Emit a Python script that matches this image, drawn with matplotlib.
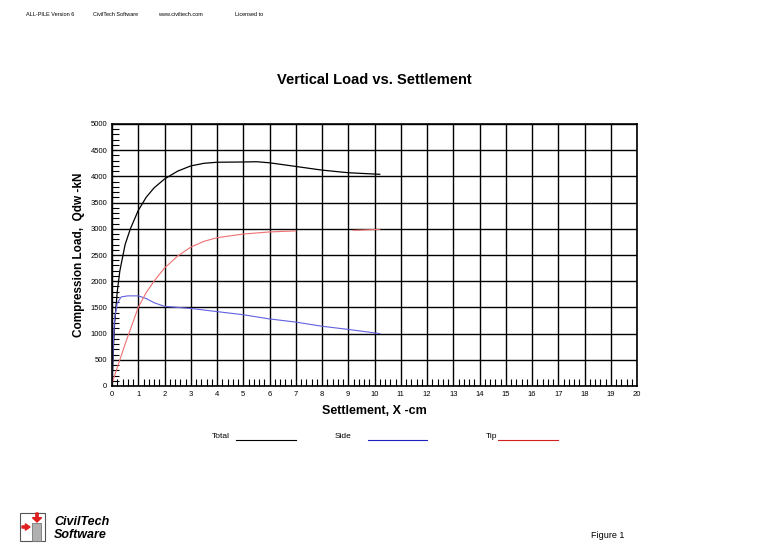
import numpy as np
import matplotlib
matplotlib.use("Agg")
import matplotlib.pyplot as plt
from matplotlib.patches import Rectangle, FancyArrow

total_x = [0, 0.05, 0.1, 0.2, 0.3, 0.5, 0.7, 1.0, 1.3, 1.6, 2.0, 2.5, 3.0, 3.5, 4.0, 5.0, 5.5, 6.0, 7.0, 8.0, 9.0, 10.2]
total_y = [0, 700, 1200, 1800, 2200, 2700, 3000, 3350, 3600, 3780, 3950, 4100, 4200, 4250, 4270, 4275, 4280, 4260, 4190, 4120, 4070, 4040]
side_x = [0, 0.05, 0.1, 0.2, 0.35, 0.6, 1.0, 1.3, 1.6, 2.0, 2.5, 3.0, 4.0, 5.0, 6.0, 7.0, 8.0, 9.0, 10.2]
side_y = [0, 800, 1300, 1580, 1700, 1720, 1720, 1670, 1590, 1520, 1500, 1480, 1420, 1360, 1280, 1220, 1140, 1080, 1000]
tip_x = [0, 0.2, 0.5, 1.0, 1.3, 1.6, 2.0, 2.5, 3.0, 3.5, 4.0, 5.0, 6.0, 7.0, 7.5, 9.2, 10.2]
tip_y = [50, 350, 800, 1500, 1780, 2000, 2250, 2480, 2650, 2760, 2830, 2900, 2940, 2960, np.nan, 2970, 2990]

plt.rcParams['font.family'] = ['Liberation Sans', 'DejaVu Sans']
fig = plt.figure(figsize=(7.68, 5.43), dpi=100)
ax = fig.add_axes([112/768, 1-386/543, (637-112)/768, (386-124)/543])
ax.plot(total_x, total_y, color='black', lw=0.9)
ax.plot(side_x, side_y, color='#6060e0', lw=0.8)
ax.plot(tip_x, tip_y, color='#f07070', lw=0.8)
ax.set_xlim(0, 20)
ax.set_ylim(0, 5000)
ax.set_xticks(range(0, 21))
ax.set_yticks(range(0, 5001, 500))
ax.set_xticks(np.arange(0, 20.01, 0.2), minor=True)
ax.set_yticks(range(0, 5001, 100), minor=True)
ax.grid(True, which='major', color='black', lw=1.0)
ax.tick_params(which='both', direction='in', labelsize=5.5, top=False, right=False)
ax.tick_params(which='major', length=0)
ax.tick_params(which='minor', length=5, width=0.8)
for s in ax.spines.values():
    s.set_linewidth(1.2)
ax.set_xlabel('Settlement, X -cm', fontsize=9, fontweight='bold', labelpad=5)
ax.set_ylabel('Compression Load,  Qdw -kN', fontsize=8.5, fontweight='bold', labelpad=4)

fig.text(374/768, 1-80/543, 'Vertical Load vs. Settlement', ha='center', va='center', fontsize=10.5, fontweight='bold')
for x, t in [(26, 'ALL-PILE Version 6'), (93, 'CivilTech Software'), (158, 'www.civiltech.com'), (235, 'Licensed to')]:
    fig.text(x/768, 1-14/543, t, fontsize=4, va='center')

# legend
for x0, lab, col in [(212, 'Total', 'black'), (335, 'Side', '#2020c0'), (486, 'Tip', '#d02020')]:
    fig.text(x0/768, 1-437/543, lab, fontsize=6, va='center')
for x0, x1, col in [(236, 296, 'black'), (368, 427, '#2020c0'), (498, 558, '#d02020')]:
    fig.add_artist(plt.Line2D([x0/768, x1/768], [1-440/543]*2, color=col, lw=0.8))

# logo
fig.add_artist(Rectangle((20/768, 1-541/543), 25/768, 28/543, fill=False, ec='#555555', lw=0.8))
fig.add_artist(Rectangle((32/768, 1-541/543), 9/768, 18/543, fc='#b0b0b0', ec='#777777', lw=0.6))
fig.add_artist(FancyArrow(22/768, 1-527/543, 8/768, 0, width=0.004, head_width=0.012, head_length=0.006, color='#e02020', length_includes_head=True))
fig.add_artist(FancyArrow(37/768, 1-513/543, 0, -9/543, width=0.003, head_width=0.012, head_length=0.008, color='#e02020', length_includes_head=True))
fig.text(54/768, 1-522/543, 'CivilTech', fontsize=9, fontweight='bold', style='italic', va='center')
fig.text(54/768, 1-535/543, 'Software', fontsize=9, fontweight='bold', style='italic', va='center')
fig.text(591/768, 1-536/543, 'Figure 1', fontsize=6.5, va='center')

fig.savefig('out.png', dpi=100, facecolor='white')
